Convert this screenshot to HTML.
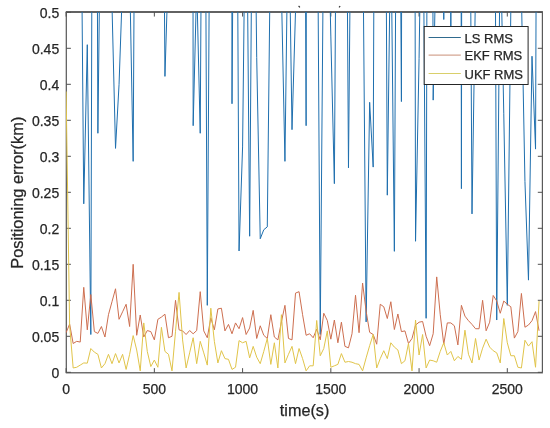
<!DOCTYPE html>
<html><head><meta charset="utf-8"><title>Positioning error</title>
<style>
html,body{margin:0;padding:0;background:#fff;}
body{width:550px;height:428px;overflow:hidden;}
svg{display:block;}
text{font-family:"Liberation Sans", Arial, Helvetica, sans-serif;fill:#262626;stroke:#262626;stroke-width:0.25px;}
</style></head><body>
<svg width="550" height="428" viewBox="0 0 550 428">
<defs><clipPath id="ax"><rect x="65.9" y="11.95" width="476.5" height="360.8"/></clipPath></defs>
<rect x="0" y="0" width="550" height="428" fill="#fff"/>

<g stroke="#505050" stroke-width="1" fill="none">
<path d="M65.8,11.95H542.9" stroke="#2e2e2e" stroke-width="1.4"/>
<path d="M66.3,11.95V372.75" stroke="#555555" stroke-width="1.2"/>
<path d="M542.4,11.95V372.75" stroke="#5a5a5a" stroke-width="1.2"/>
<path d="M65.8,372.75H542.9" stroke="#707070" stroke-width="1.3"/>
<path d="M66.11,372.75v-4.6M66.11,11.95v4.6M154.35,372.75v-4.6M154.35,11.95v4.6M242.59,372.75v-4.6M242.59,11.95v4.6M330.83,372.75v-4.6M330.83,11.95v4.6M419.07,372.75v-4.6M419.07,11.95v4.6M507.30,372.75v-4.6M507.30,11.95v4.6M66.3,372.30h4.6M542.4,372.30h-4.6M66.3,336.30h4.6M542.4,336.30h-4.6M66.3,300.30h4.6M542.4,300.30h-4.6M66.3,264.30h4.6M542.4,264.30h-4.6M66.3,228.30h4.6M542.4,228.30h-4.6M66.3,192.30h4.6M542.4,192.30h-4.6M66.3,156.30h4.6M542.4,156.30h-4.6M66.3,120.30h4.6M542.4,120.30h-4.6M66.3,84.30h4.6M542.4,84.30h-4.6M66.3,48.30h4.6M542.4,48.30h-4.6M66.3,12.30h4.6M542.4,12.30h-4.6"/>
</g>
<g clip-path="url(#ax)" fill="none" stroke-width="1.0" stroke-linejoin="round">
<polyline stroke="#1f6fae" points="66.11,-1787.70 69.64,-1787.70 73.17,-1787.70 76.70,-1787.70 80.23,-203.70 83.76,203.82 87.29,44.70 90.82,334.50 94.35,-851.70 97.88,133.26 101.41,-167.70 104.94,-1787.70 108.46,-1787.70 111.99,5.10 115.52,148.38 119.05,84.30 122.58,-16.50 126.11,-1787.70 129.64,-27.30 133.17,161.34 136.70,-484.50 140.23,-1787.70 143.76,-1787.70 147.29,-1787.70 150.82,-1787.70 154.35,-1787.70 157.88,-1787.70 161.41,-434.10 164.94,76.38 168.47,-38.10 172.00,-1787.70 175.53,-1787.70 179.06,-1787.70 182.59,-1787.70 186.11,-1787.70 189.64,-2939.70 193.17,125.70 196.70,-16.50 200.23,133.26 203.76,-455.70 207.29,305.34 210.82,-268.50 214.35,-1787.70 217.88,-1787.70 221.41,-1787.70 224.94,-1787.70 228.47,-3227.70 232.00,103.74 235.53,-419.70 239.06,250.98 242.59,146.94 246.12,-167.70 249.65,236.22 253.18,-245.46 256.71,57.66 260.24,238.74 263.77,229.74 267.29,226.86 270.82,-88.50 274.35,-1787.70 277.88,-1787.70 281.41,-9.30 284.94,161.34 288.47,-110.10 292.00,129.66 295.53,10.86 299.06,-1787.70 302.59,-707.70 306.12,125.70 309.65,-2507.70 313.18,-1787.70 316.71,-218.10 320.24,334.50 323.77,-95.70 327.30,-117.30 330.83,36.06 334.36,183.66 337.89,-369.30 341.42,-1787.70 344.94,-383.70 348.47,167.82 352.00,-218.10 355.53,-1787.70 359.06,-1787.70 362.59,-95.70 366.12,321.90 369.65,102.30 373.18,167.10 376.71,-743.70 380.24,-1787.70 383.77,-520.50 387.30,195.18 390.83,-81.30 394.36,251.34 397.89,-448.50 401.42,101.58 404.95,-1787.70 408.48,-1787.70 412.01,-1787.70 415.54,241.26 419.07,58.38 422.60,-167.70 426.12,318.30 429.65,-1139.70 433.18,100.14 436.71,-81.30 440.24,-1787.70 443.77,19.50 447.30,-1787.70 450.83,48.30 454.36,-1787.70 457.89,-2507.70 461.42,188.70 464.95,-2507.70 468.48,-376.50 472.01,213.90 475.54,-12.90 479.07,-1787.70 482.60,-1787.70 486.13,-1787.70 489.66,-1787.70 493.19,-585.30 496.72,320.03 500.25,-66.90 503.77,113.82 507.30,305.34 510.83,9.42 514.36,-1787.70 517.89,-1787.70 521.42,-4.98 524.95,181.50 528.48,280.14 532.01,56.22 535.54,149.10 539.07,-830.10"/>
<polyline stroke="#cd6f50" points="66.11,332.70 69.64,324.06 73.17,343.50 76.70,341.34 80.23,342.06 83.76,287.34 87.29,329.82 90.82,294.54 94.35,331.62 97.88,333.42 101.41,326.51 104.94,337.02 108.46,314.70 111.99,301.74 115.52,288.78 119.05,319.31 122.58,311.82 126.11,304.26 129.64,326.51 133.17,264.30 136.70,335.29 140.23,314.99 143.76,337.02 147.29,330.54 150.82,331.62 154.35,339.90 157.88,319.31 161.41,317.08 164.94,314.20 168.47,337.74 172.00,336.30 175.53,300.30 179.06,329.82 182.59,330.90 186.11,334.50 189.64,330.54 193.17,333.78 196.70,330.54 200.23,291.66 203.76,330.90 207.29,337.74 210.82,317.80 214.35,329.82 217.88,308.94 221.41,308.22 224.94,330.90 228.47,324.42 232.00,333.78 235.53,322.91 239.06,328.74 242.59,317.58 246.12,334.50 249.65,328.02 253.18,310.38 256.71,338.46 260.24,325.79 263.77,335.29 267.29,338.46 270.82,314.70 274.35,337.02 277.88,339.90 281.41,321.90 284.94,305.34 288.47,338.46 292.00,339.90 295.53,293.10 299.06,291.66 302.59,314.70 306.12,335.29 309.65,333.78 313.18,337.74 316.71,329.10 320.24,339.90 323.77,313.26 327.30,320.46 330.83,339.18 334.36,320.03 337.89,342.78 341.42,322.19 344.94,346.38 348.47,347.82 352.00,333.78 355.53,295.26 359.06,332.70 362.59,283.02 366.12,311.10 369.65,332.34 373.18,334.50 376.71,344.22 380.24,304.26 383.77,306.78 387.30,318.52 390.83,301.74 394.36,329.53 397.89,313.98 401.42,331.62 404.95,330.90 408.48,343.50 412.01,338.46 415.54,325.14 419.07,322.19 422.60,321.47 426.12,336.30 429.65,345.66 433.18,333.78 436.71,276.90 440.24,314.70 443.77,344.22 447.30,322.91 450.83,322.91 454.36,325.79 457.89,344.94 461.42,305.34 464.95,316.14 468.48,320.68 472.01,324.42 475.54,328.74 479.07,328.74 482.60,300.30 486.13,330.76 489.66,322.19 493.19,295.48 496.72,301.02 500.25,313.26 503.77,301.02 507.30,304.26 510.83,306.78 514.36,338.10 517.89,331.62 521.42,293.46 524.95,327.23 528.48,325.00 532.01,320.68 535.54,311.60 539.07,330.76"/>
<polyline stroke="#e0c44a" points="66.11,91.50 69.64,325.50 73.17,367.98 76.70,367.26 80.23,365.10 83.76,362.94 87.29,363.16 90.82,348.54 94.35,352.14 97.88,354.30 101.41,367.98 104.94,363.66 108.46,354.30 111.99,363.66 115.52,353.58 119.05,362.94 122.58,354.30 126.11,369.42 129.64,354.30 133.17,335.58 136.70,349.98 140.23,370.86 143.76,322.91 147.29,351.42 150.82,366.54 154.35,360.06 157.88,367.26 161.41,327.30 164.94,351.42 168.47,354.30 172.00,370.86 175.53,331.26 179.06,292.38 182.59,339.90 186.11,367.98 189.64,352.86 193.17,337.74 196.70,363.66 200.23,341.34 203.76,352.86 207.29,365.10 210.82,308.22 214.35,341.34 217.88,362.94 221.41,350.70 224.94,358.62 228.47,359.34 232.00,369.42 235.53,367.26 239.06,340.62 242.59,342.78 246.12,341.34 249.65,357.90 253.18,346.38 256.71,357.18 260.24,363.66 263.77,351.42 267.29,338.46 270.82,364.38 274.35,342.78 277.88,367.98 281.41,314.70 284.94,362.94 288.47,354.30 292.00,346.38 295.53,363.66 299.06,348.54 302.59,358.62 306.12,370.86 309.65,365.82 313.18,365.82 316.71,320.46 320.24,355.74 323.77,348.54 327.30,330.90 330.83,367.26 334.36,365.82 337.89,364.38 341.42,353.58 344.94,362.22 348.47,361.50 352.00,362.22 355.53,363.66 359.06,364.38 362.59,370.86 366.12,357.90 369.65,345.66 373.18,334.50 376.71,367.98 380.24,358.62 383.77,350.70 387.30,358.62 390.83,342.78 394.36,347.10 397.89,349.98 401.42,363.66 404.95,360.78 408.48,343.50 412.01,370.86 415.54,320.03 419.07,355.02 422.60,334.50 426.12,367.98 429.65,360.06 433.18,360.78 436.71,362.22 440.24,351.42 443.77,342.78 447.30,355.02 450.83,351.42 454.36,360.78 457.89,356.46 461.42,359.34 464.95,330.18 468.48,354.30 472.01,362.94 475.54,338.46 479.07,360.06 482.60,348.18 486.13,339.18 489.66,347.10 493.19,350.70 496.72,352.86 500.25,362.94 503.77,318.52 507.30,342.78 510.83,355.74 514.36,355.74 517.89,367.26 521.42,367.98 524.95,340.26 528.48,346.09 532.01,341.70 535.54,367.26 539.07,301.02"/>
</g>
<g font-size="14.0">
<text x="66.11" y="394.0" text-anchor="middle">0</text>
<text x="154.35" y="394.0" text-anchor="middle">500</text>
<text x="242.59" y="394.0" text-anchor="middle">1000</text>
<text x="330.83" y="394.0" text-anchor="middle">1500</text>
<text x="419.07" y="394.0" text-anchor="middle">2000</text>
<text x="507.30" y="394.0" text-anchor="middle">2500</text>
<text x="59.2" y="377.70" text-anchor="end">0</text>
<text x="59.2" y="341.70" text-anchor="end">0.05</text>
<text x="59.2" y="305.70" text-anchor="end">0.1</text>
<text x="59.2" y="269.70" text-anchor="end">0.15</text>
<text x="59.2" y="233.70" text-anchor="end">0.2</text>
<text x="59.2" y="197.70" text-anchor="end">0.25</text>
<text x="59.2" y="161.70" text-anchor="end">0.3</text>
<text x="59.2" y="125.70" text-anchor="end">0.35</text>
<text x="59.2" y="89.70" text-anchor="end">0.4</text>
<text x="59.2" y="53.70" text-anchor="end">0.45</text>
<text x="59.2" y="17.70" text-anchor="end">0.5</text>
</g>
<text x="304.6" y="415.6" font-size="16.2" text-anchor="middle">time(s)</text>
<text transform="translate(22.5,192.7) rotate(-90)" font-size="16.4" text-anchor="middle">Positioning error(km)</text>
<path d="M298.6,6.0l1.3,1.3M340.2,6.0l-1.2,1.4" stroke="#262626" stroke-width="1.1" fill="none"/>
<rect x="424.2" y="26.5" width="103.90000000000003" height="58.0" fill="#fff" stroke="#262626" stroke-width="1"/>
<line x1="428.6" y1="37.5" x2="460.8" y2="37.5" stroke="#2f6a8e" stroke-width="1"/>
<text x="464.5" y="42.60" font-size="13">LS RMS</text>
<line x1="428.6" y1="55.1" x2="460.8" y2="55.1" stroke="#c98f78" stroke-width="1"/>
<text x="464.5" y="60.20" font-size="13">EKF RMS</text>
<line x1="428.6" y1="73.5" x2="460.8" y2="73.5" stroke="#d9cf6a" stroke-width="1"/>
<text x="464.5" y="78.60" font-size="13">UKF RMS</text>
</svg>
</body></html>
